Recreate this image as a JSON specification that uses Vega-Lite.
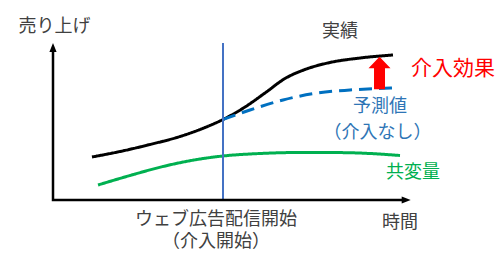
{
  "$schema": "https://vega.github.io/schema/vega-lite/v6.json",
  "width": 501,
  "height": 257,
  "autosize": {"type": "fit", "contains": "padding"},
  "padding": 0,
  "background": "white",
  "config": {"view": {"stroke": null}, "text": {"font": "Noto Sans CJK JP"}},
  "datasets": {
    "lines": [
      {"series": "実績", "i": 0, "t": 10.92, "s": 27.74},
      {"series": "実績", "i": 1, "t": 18.77, "s": 31.29},
      {"series": "実績", "i": 2, "t": 27.17, "s": 35.81},
      {"series": "実績", "i": 3, "t": 35.57, "s": 40.97},
      {"series": "実績", "i": 4, "t": 42.58, "s": 46.77},
      {"series": "実績", "i": 5, "t": 47.62, "s": 51.94},
      {"series": "実績", "i": 6, "t": 53.78, "s": 60.0},
      {"series": "実績", "i": 7, "t": 59.38, "s": 69.03},
      {"series": "実績", "i": 8, "t": 64.99, "s": 78.39},
      {"series": "実績", "i": 9, "t": 70.59, "s": 84.19},
      {"series": "実績", "i": 10, "t": 77.59, "s": 88.71},
      {"series": "実績", "i": 11, "t": 85.99, "s": 91.61},
      {"series": "実績", "i": 12, "t": 95.24, "s": 93.55},
      {"series": "予測値", "i": 0, "t": 47.62, "s": 51.94},
      {"series": "予測値", "i": 1, "t": 55.18, "s": 58.06},
      {"series": "予測値", "i": 2, "t": 64.43, "s": 64.52},
      {"series": "予測値", "i": 3, "t": 73.95, "s": 69.03},
      {"series": "予測値", "i": 4, "t": 83.19, "s": 70.97},
      {"series": "予測値", "i": 5, "t": 94.96, "s": 72.26},
      {"series": "共変量", "i": 0, "t": 12.61, "s": 9.68},
      {"series": "共変量", "i": 1, "t": 21.57, "s": 15.81},
      {"series": "共変量", "i": 2, "t": 30.81, "s": 21.61},
      {"series": "共変量", "i": 3, "t": 40.34, "s": 26.13},
      {"series": "共変量", "i": 4, "t": 47.62, "s": 28.39},
      {"series": "共変量", "i": 5, "t": 57.98, "s": 30.0},
      {"series": "共変量", "i": 6, "t": 69.19, "s": 30.65},
      {"series": "共変量", "i": 7, "t": 80.39, "s": 30.58},
      {"series": "共変量", "i": 8, "t": 88.8, "s": 30.0},
      {"series": "共変量", "i": 9, "t": 97.2, "s": 28.71}
    ],
    "axes": [
      {"i": 0, "t": 0, "s": 95.5},
      {"i": 1, "t": 0, "s": 0},
      {"i": 2, "t": 97.96, "s": 0}
    ],
    "yhead": [{"t": 0, "s": 98.39}],
    "xhead": [{"t": 98.94, "s": 0}],
    "start": [{"t": 47.62, "s": 0, "s2": 101.3}],
    "effect": [{"t": 91.46, "s": 81.94}],
    "labels": [
      {"kind": "plain", "label": "売り上げ", "t": 0.42, "s": 111.6},
      {"kind": "plain", "label": "実績", "t": 80.39, "s": 108.39},
      {"kind": "effect", "label": "介入効果", "t": 112.04, "s": 84.52},
      {"kind": "pred", "label": "予測値", "t": 91.6, "s": 59.68},
      {"kind": "pred", "label": "（介入なし）", "t": 90.9, "s": 43.23},
      {"kind": "cov", "label": "共変量", "t": 100.84, "s": 17.42},
      {"kind": "plain", "label": "時間", "t": 97.2, "s": -14.52}
    ],
    "startlabel": [
      {"label": "ウェブ広告配信開始\n（介入開始）", "t": 45.66, "s": -7.1}
    ]
  },
  "encoding": {
    "x": {"field": "t", "type": "quantitative", "scale": {"domain": [-14.846, 125.49], "nice": false, "zero": false}, "axis": null},
    "y": {"field": "s", "type": "quantitative", "scale": {"domain": [-36.77, 129.03], "nice": false, "zero": false}, "axis": null}
  },
  "layer": [
    {
      "data": {"name": "lines"},
      "mark": {"type": "line", "interpolate": "monotone", "strokeWidth": 3},
      "encoding": {
        "order": {"field": "i", "type": "quantitative"},
        "color": {"field": "series", "type": "nominal", "scale": {"domain": ["実績", "予測値", "共変量"], "range": ["#000000", "#0070C0", "#00B050"]}, "legend": null},
        "strokeDash": {"field": "series", "type": "nominal", "scale": {"domain": ["実績", "予測値", "共変量"], "range": [[1, 0], [13, 7], [1, 0]]}, "legend": null}
      }
    },
    {
      "data": {"name": "start"},
      "mark": {"type": "rule", "color": "#4472C4", "strokeWidth": 2},
      "encoding": {"y2": {"field": "s2"}}
    },
    {
      "data": {"name": "axes"},
      "mark": {"type": "line", "color": "#000000", "strokeWidth": 2.5, "strokeJoin": "miter"},
      "encoding": {"order": {"field": "i", "type": "quantitative"}}
    },
    {
      "data": {"name": "yhead"},
      "mark": {"type": "point", "shape": "M0,-1L0.8,1L-0.8,1Z", "filled": true, "color": "#000000", "opacity": 1, "size": 81, "strokeWidth": 0}
    },
    {
      "data": {"name": "xhead"},
      "mark": {"type": "point", "shape": "M1,0L-1,0.8L-1,-0.8Z", "filled": true, "color": "#000000", "opacity": 1, "size": 81, "strokeWidth": 0}
    },
    {
      "data": {"name": "effect"},
      "mark": {"type": "point", "shape": "M-0.337,1L0.337,1L0.337,-0.288L0.675,-0.288L0,-1L-0.675,-0.288L-0.337,-0.288Z", "filled": true, "color": "#FF0000", "opacity": 1, "size": 1063, "strokeWidth": 0}
    },
    {
      "data": {"name": "labels"},
      "transform": [{"filter": "datum.kind === 'plain'"}],
      "mark": {"type": "text", "fontSize": 18, "color": "#404040", "align": "center", "baseline": "middle"},
      "encoding": {"text": {"field": "label"}}
    },
    {
      "data": {"name": "startlabel"},
      "mark": {"type": "text", "fontSize": 18, "color": "#404040", "align": "center", "baseline": "top", "lineBreak": "\n", "lineHeight": 21.5},
      "encoding": {"text": {"field": "label"}}
    },
    {
      "data": {"name": "labels"},
      "transform": [{"filter": "datum.kind === 'pred'"}],
      "mark": {"type": "text", "fontSize": 18, "color": "#2E75B6", "align": "center", "baseline": "middle"},
      "encoding": {"text": {"field": "label"}}
    },
    {
      "data": {"name": "labels"},
      "transform": [{"filter": "datum.kind === 'cov'"}],
      "mark": {"type": "text", "fontSize": 18, "color": "#00B050", "align": "center", "baseline": "middle"},
      "encoding": {"text": {"field": "label"}}
    },
    {
      "data": {"name": "labels"},
      "transform": [{"filter": "datum.kind === 'effect'"}],
      "mark": {"type": "text", "fontSize": 21, "color": "#FF0000", "align": "center", "baseline": "middle"},
      "encoding": {"text": {"field": "label"}}
    }
  ]
}
